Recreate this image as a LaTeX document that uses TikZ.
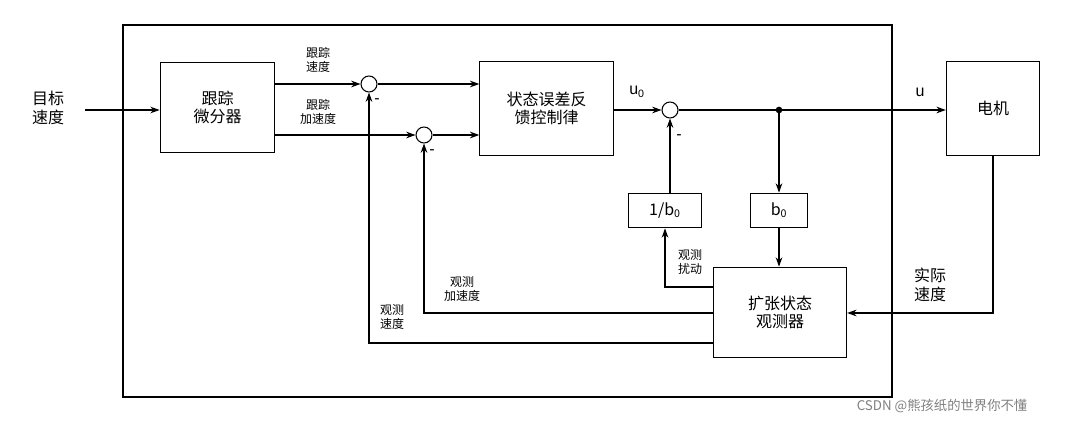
\documentclass[tikz,border=0pt]{standalone}
\usepackage{fontspec}
\newfontfamily\cjk{Noto Sans CJK SC}
\setmainfont{Liberation Sans}
\usetikzlibrary{arrows.meta,positioning}
\begin{document}
\begin{tikzpicture}[x=0.75pt,y=-0.75pt,
  blk/.style={draw,thick,inner sep=0pt,font=\cjk\large,align=center},
  sm/.style={draw,thick,circle,minimum size=12pt,inner sep=0pt},
  lab/.style={font=\cjk\small,align=center},
  ar/.style={thick,-{Stealth[length=7pt,width=5pt]}},
  ln/.style={thick}]
\useasboundingbox (0,0) rectangle (1081,424);
\draw[ln] (123,25) rectangle (892,397);
\node[lab,font=\cjk\large] (tgt) at (48,108) {目标\\速度};
\node[blk,minimum width=86pt,minimum height=68pt] (td) at (217.5,107.5) {跟踪\\微分器};
\node[blk,minimum width=100pt,minimum height=70pt] (sef) at (546.5,108.5) {状态误差反\\馈控制律};
\node[blk,minimum width=70pt,minimum height=70pt] (mot) at (993,108.5) {电机};
\node[blk,minimum width=55pt,minimum height=26pt] (ib) at (665,210.5) {1/b\textsubscript{0}};
\node[blk,minimum width=43pt,minimum height=26pt] (b0) at (779,210.5) {b\textsubscript{0}};
\node[blk,minimum width=100pt,minimum height=68pt] (eso) at (780,312.5) {扩张状态\\观测器};
\node[sm] (s1) at (369,84) {};
\node[sm] (s2) at (424,135) {};
\node[sm] (s3) at (670,110) {};
\coordinate (dot) at (779,110);
\fill (dot) circle (2.5pt);
\coordinate (tin) at (85,110);
\draw[ar] (tin) -- (td.west |- tin);
\draw[ar] (td.east |- s1) -- (s1);
\draw[ar] (td.east |- s2) -- (s2);
\draw[ar] (s1) -- (sef.west |- s1);
\draw[ar] (s2) -- (sef.west |- s2);
\draw[ar] (sef.east |- s3) -- (s3);
\draw[ar] (s3) -- (mot.west |- s3);
\draw[ar] (dot) -- (b0);
\draw[ar] (b0) -- (eso.north -| b0);
\draw[ar] (s3 |- ib.north) -- (s3);
\draw[ar] (eso.west |- 0,287) -- (665,287) -- (ib.south);
\draw[ar] (eso.west |- 0,313) -- (424,313) -- (s2);
\draw[ar] (eso.west |- 0,343) -- (369,343) -- (s1);
\draw[ar] (mot.south) -- (993,313) -- (eso.east |- 0,313);
\node[lab] at (318,60) {跟踪\\速度};
\node[lab] at (318,112) {跟踪\\加速度};
\node[font=\large] at (377,101) {-};
\node[font=\large] at (432,152) {-};
\node[font=\large] at (679,137) {-};
\node[font=\large] at (637,92) {u\textsubscript{0}};
\node[font=\large] at (920,92) {u};
\node[lab] at (690,262) {观测\\扰动};
\node[lab] at (462,289) {观测\\加速度};
\node[lab] at (392,317) {观测\\速度};
\node[lab,font=\cjk\large] at (930,285) {实际\\速度};
\node[font=\cjk\normalsize,text=gray] at (942,406) {CSDN @熊孩纸的世界你不懂};
\end{tikzpicture}
\end{document}
